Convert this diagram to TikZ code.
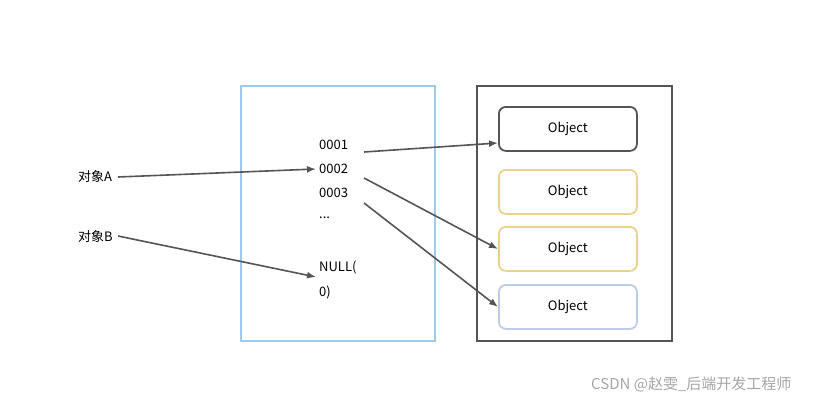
\documentclass[tikz,border=0pt]{standalone}
\usepackage{fontspec}
\setmainfont{Noto Sans CJK SC}
\usetikzlibrary{arrows.meta}
\definecolor{dk}{HTML}{555555}
\definecolor{bl}{HTML}{9FCBEA}
\definecolor{yl}{HTML}{E8D28E}
\definecolor{pv}{HTML}{BFCBE8}
\begin{document}
\begin{tikzpicture}[x=1pt,y=-1pt,
 t/.style={anchor=west,inner sep=0,font=\fontsize{13}{14}\selectfont},
 obj/.style={draw,rounded corners=7pt,line width=1.8pt,minimum width=138pt,minimum height=44pt,anchor=north west,font=\fontsize{13}{14}\selectfont},
 ar/.style={draw=dk,line width=1.6pt,-{Latex[length=9pt,width=7pt]}}]
\useasboundingbox (0,0) rectangle (815,402);
\fill[white] (0,0) rectangle (815,402);
\draw[bl,line width=1.8pt] (241,86) rectangle (435,341);
\draw[dk,line width=1.8pt] (477,86) rectangle (672,341);
\node[obj,draw=dk] (o1) at (498,106) {Object};
\node[obj,draw=yl] (o2) at (498,169) {Object};
\node[obj,draw=yl] (o3) at (498,226) {Object};
\node[obj,draw=pv] (o4) at (498,284) {Object};
\node[t] (a1) at (319,145) {0001};
\node[t] (a2) at (319,169) {0002};
\node[t] (a3) at (319,193) {0003};
\node[t] (a4) at (319,218) {...};
\node[t] (n1) at (319,267) {NULL(};
\node[t] (n2) at (319,292) {0)};
\node[t] (A) at (78,177) {对象A};
\node[t] (B) at (78,237) {对象B};
\coordinate (p1) at (364,152); \coordinate (q1) at (498,143);
\coordinate (p2) at (364,178); \coordinate (q2) at (498,249);
\coordinate (p3) at (364,203); \coordinate (q3) at (498,307);
\coordinate (pa) at (118,177); \coordinate (qa) at (316,169);
\coordinate (pb) at (118,236); \coordinate (qb) at (316,277);
\draw[ar] (p1) -- (q1);
\draw[ar] (p2) -- (q2);
\draw[ar] (p3) -- (q3);
\draw[ar] (pa) -- (qa);
\draw[ar] (pb) -- (qb);
\node[t,text=gray!70,font=\fontsize{15}{16}\selectfont] (w) at (591,384) {CSDN @赵雯\_后端开发工程师};
\end{tikzpicture}
\end{document}
